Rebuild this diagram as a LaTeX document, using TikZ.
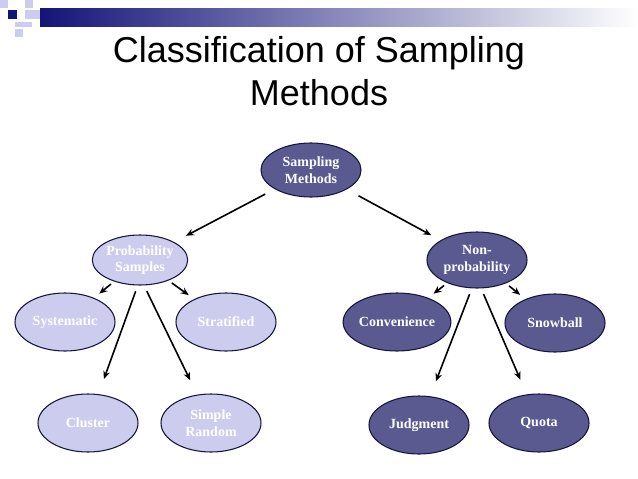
\documentclass[tikz,border=0pt]{standalone}
\usepackage{fontspec}
\setmainfont{Liberation Serif}
\newfontfamily\titlefont{Liberation Sans}
\usetikzlibrary{shapes.geometric,arrows.meta}
\definecolor{darkfill}{RGB}{90,90,145}
\definecolor{lightfill}{RGB}{204,204,238}
\definecolor{edge}{RGB}{20,20,60}
\definecolor{barblue}{RGB}{20,20,120}
\begin{document}
\begin{tikzpicture}[x=0.75pt,y=-0.75pt,
  el/.style={ellipse,draw=edge,line width=0.8pt,minimum width=100*0.75pt,minimum height=58*0.75pt,inner sep=0pt,
    font=\fontsize{10.5pt}{12.5pt}\selectfont\bfseries,text=white,align=center},
  dk/.style={el,fill=darkfill},
  lt/.style={el,fill=lightfill},
  arr/.style={-{Stealth[length=6pt,width=5pt]},line width=1.2pt,black,shorten >=5pt,shorten <=3pt}]
\useasboundingbox (0,0) rectangle (638,478);
\fill[white] (0,0) rectangle (638,478);
% decoration
\shade[left color=barblue,right color=white] (40,9) rectangle (638,27);
\fill[barblue] (8,10) rectangle (17,19);
\fill[lightfill] (0,0) rectangle (8,8);
\fill[lightfill] (25,0) rectangle (33,8);
\fill[lightfill] (25,10) rectangle (40,19);
\fill[lightfill] (15,22) rectangle (32,27);
\fill[lightfill] (15,29) rectangle (23,37);
\node[font=\titlefont\fontsize{27pt}{32pt}\selectfont,align=center] (title) at (319,71) {Classification of Sampling\\Methods};
\node[dk,minimum width=100*0.75pt,minimum height=54*0.75pt] (sm) at (311,170) {Sampling\\Methods};
\node[lt,minimum width=90*0.75pt,minimum height=50*0.75pt] (ps) at (140,260) {Probability\\Samples};
\node[dk,minimum height=56*0.75pt] (np) at (477,260) {Non-\\probability};
\node[lt] (sy) at (65,322) {Systematic};
\node[lt] (st) at (226,322) {Stratified};
\node[dk] (cv) at (397,322) {Convenience};
\node[dk] (sb) at (555,323) {Snowball};
\node[lt] (cl) at (88,423) {Cluster};
\node[lt] (sr) at (211,423) {Simple\\Random};
\node[dk] (jd) at (419,425) {Judgment};
\node[dk] (qt) at (539,423) {Quota};
\draw[arr,shorten >=10pt,shorten <=8pt] (sm) -- (ps);
\draw[arr,shorten >=8pt,shorten <=10pt] (sm) -- (np);
\draw[arr] (ps) -- (sy);
\draw[arr] (ps) -- (st);
\draw[arr,shorten >=12pt] (ps.south) ++(-3,2) -- (cl);
\draw[arr,shorten >=12pt] (ps.south) ++(5,2) -- (sr);
\draw[arr] (np) -- (cv);
\draw[arr] (np) -- (sb);
\draw[arr,shorten >=12pt] (np.south) ++(-6,2) -- (jd);
\draw[arr,shorten >=12pt] (np.south) ++(5,2) -- (qt);
\end{tikzpicture}
\end{document}
